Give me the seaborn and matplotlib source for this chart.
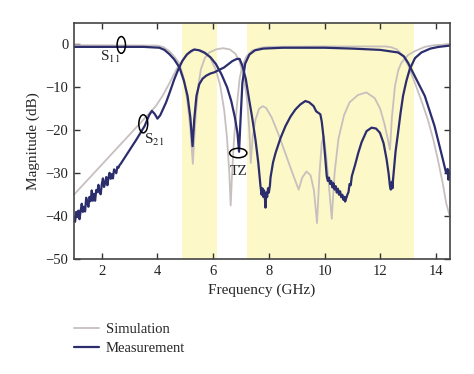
import matplotlib
matplotlib.use("Agg")
import matplotlib.pyplot as plt
from matplotlib.patches import Ellipse
import numpy as np
import pandas as pd
import seaborn as sns

# ---- data (frequency in GHz, magnitude in dB) ----
s21_sim_f = [1.0, 1.5, 2.0, 2.5, 3.0, 3.5, 3.95, 4.2, 4.45, 4.7, 4.9, 5.1, 5.3, 5.5, 5.7,
             5.9, 6.1, 6.25, 6.4, 6.5, 6.58, 6.63, 6.68, 6.75, 6.85, 6.95, 7.05, 7.2, 7.4,
             7.7, 8.0, 10.0, 12.2, 12.4, 12.6, 12.8, 13.0, 13.24, 13.5, 13.71, 13.9, 14.07,
             14.25, 14.37, 14.5]
s21_sim_db = [-35.0, -31.5, -28.0, -24.5, -21.0, -17.5, -14.3, -11.8, -8.8, -5.6, -3.8, -2.3,
              -1.4, -1.3, -1.8, -3.2, -6.0, -9.5, -15.5, -22.0, -30.0, -37.5, -30.0, -22.0,
              -14.5, -8.0, -5.0, -2.8, -1.5, -0.8, -0.6, -0.5, -0.5, -0.7, -1.2, -2.5, -4.8,
              -8.9, -13.5, -17.5, -22.0, -26.8, -32.5, -37.0, -40.0]

s21_meas_f = [1.00, 1.04, 1.08, 1.12, 1.16, 1.20, 1.24, 1.28, 1.32, 1.36, 1.40, 1.44, 1.48,
              1.52, 1.56, 1.60, 1.64, 1.68, 1.72, 1.76, 1.80, 1.84, 1.88, 1.92, 1.96, 2.00,
              2.04, 2.08, 2.12, 2.16, 2.20, 2.24, 2.28, 2.32, 2.36, 2.40, 2.44, 2.48, 2.52,
              2.56, 2.60, 2.64, 2.68, 2.8, 3.0, 3.24, 3.54, 3.7, 3.8, 3.9, 4.0, 4.1, 4.31,
              4.45, 4.6, 4.75, 4.9, 5.05, 5.2, 5.32, 5.5, 5.7, 5.9, 6.1, 6.3, 6.5, 6.65, 6.78,
              6.87, 6.93, 6.98, 7.05, 7.15, 7.3, 7.5, 7.8, 8.5, 10.0, 11.0, 12.0, 12.64,
              12.85, 13.0, 13.24, 13.6, 13.95, 14.25, 14.37, 14.42, 14.45, 14.48, 14.5]
s21_meas_db = [-40.3, -41.3, -39.0, -40.2, -38.7, -40.7, -38.8, -37.1, -39.0, -37.8, -38.9,
               -35.7, -36.8, -37.8, -35.5, -36.5, -34.0, -36.4, -34.8, -36.4, -33.9, -34.4,
               -32.7, -34.5, -34.9, -32.6, -31.2, -33.2, -32.3, -30.9, -32.8, -31.0, -29.9,
               -31.3, -30.2, -31.2, -29.1, -29.5, -30.0, -28.5, -28.7, -28.1, -27.8, -26.6,
               -24.6, -22.2, -19.0, -16.5, -15.5, -16.2, -17.3, -16.5, -13.5, -11.0, -8.2,
               -5.8, -3.8, -2.4, -1.6, -1.2, -1.4, -2.0, -3.0, -4.6, -7.0, -10.0, -13.2, -17.0,
               -20.5, -25.0, -18.0, -9.0, -4.5, -2.4, -1.4, -1.0, -0.8, -0.8, -1.0, -1.3,
               -1.9, -2.8, -4.3, -7.4, -12.0, -19.0, -26.8, -30.0, -29.0, -31.5, -29.5, -31.0]

s11_sim_f = [1.0, 4.0, 4.2, 4.43, 4.6, 4.79, 4.95, 5.08, 5.18, 5.27, 5.33, 5.38, 5.47, 5.56,
             5.7, 5.86, 6.1, 6.35, 6.6, 6.8, 6.95, 7.1, 7.22, 7.3, 7.35, 7.42, 7.52, 7.65,
             7.78, 7.9, 8.1, 8.35, 8.6, 8.85, 9.07, 9.2, 9.35, 9.5, 9.62, 9.73, 9.82, 9.9,
             9.97, 10.06, 10.16, 10.26, 10.36, 10.5, 10.7, 10.9, 11.2, 11.5, 11.8, 12.0,
             12.15, 12.27, 12.35, 12.42, 12.53, 12.65, 12.76, 13.0, 13.24, 13.6, 13.95, 14.5]
s11_sim_db = [-0.2, -0.3, -0.6, -1.6, -2.8, -4.5, -8.0, -13.6, -19.5, -27.8, -21.0, -16.0,
              -9.5, -5.8, -3.2, -1.9, -1.2, -0.9, -1.2, -2.2, -4.0, -7.5, -13.0, -20.0,
              -27.6, -21.5, -17.5, -15.0, -14.4, -14.8, -17.0, -21.0, -25.5, -30.0, -33.8,
              -31.0, -29.6, -30.5, -34.0, -41.6, -30.0, -23.0, -21.4, -26.0, -33.0, -40.6,
              -30.0, -22.0, -16.5, -13.5, -11.8, -11.2, -12.5, -15.0, -18.5, -22.0, -24.5,
              -17.0, -9.7, -6.0, -4.3, -2.5, -1.6, -0.6, -0.2, 0.0]

s11_meas_f = [1.0, 3.5, 4.07, 4.25, 4.43, 4.6, 4.79, 4.95, 5.08, 5.18, 5.26, 5.32, 5.4, 5.5,
              5.62, 5.75, 5.9, 6.05, 6.2, 6.39, 6.55, 6.69, 6.85, 6.95, 7.05, 7.17, 7.29,
              7.4, 7.52, 7.62, 7.7, 7.74, 7.77, 7.8, 7.83, 7.86, 7.88, 7.91, 7.94, 7.97, 8.0,
              8.04, 8.06, 8.15, 8.24, 8.42, 8.6, 8.78, 8.95, 9.13, 9.31, 9.45, 9.61, 9.7,
              9.79, 9.85, 9.9, 9.96, 10.02, 10.08, 10.12, 10.16, 10.2, 10.24, 10.28, 10.32,
              10.36, 10.4, 10.44, 10.48, 10.52, 10.56, 10.6, 10.64, 10.68, 10.72, 10.74,
              10.78, 10.82, 10.86, 10.9, 10.94, 10.98, 11.1, 11.21, 11.33, 11.51, 11.69,
              11.85, 11.99, 12.12, 12.23, 12.3, 12.35, 12.38, 12.42, 12.44, 12.46, 12.55,
              12.64, 12.73, 12.82, 12.94, 13.06, 13.25, 13.48, 13.8, 14.1, 14.37, 14.5]
s11_meas_db = [-0.6, -0.6, -0.8, -1.3, -2.3, -3.5, -5.4, -8.5, -12.0, -17.0, -23.7, -17.5,
               -12.0, -9.3, -8.0, -7.3, -6.8, -6.5, -6.0, -5.4, -4.6, -3.9, -3.4, -3.4, -5.0,
               -8.0, -12.8, -17.0, -22.2, -27.5, -33.0, -35.0, -33.5, -35.5, -34.0, -36.0,
               -38.0, -34.5, -35.5, -33.5, -34.5, -32.8, -31.0, -27.5, -25.3, -21.8, -19.0,
               -16.8, -15.2, -14.0, -13.2, -13.5, -14.4, -15.6, -16.0, -16.3, -18.0, -21.4,
               -26.0, -30.7, -31.8, -31.0, -32.5, -31.8, -33.3, -32.3, -33.8, -33.0, -34.5,
               -33.6, -35.0, -34.2, -35.6, -35.0, -36.2, -35.5, -36.6, -35.8, -35.0, -34.4,
               -32.5, -32.8, -30.7, -28.0, -25.3, -22.8, -20.2, -19.4, -19.6, -20.6, -23.0,
               -26.8, -30.0, -33.0, -33.8, -32.0, -33.5, -31.5, -25.0, -20.6, -16.0, -12.0,
               -8.5, -5.8, -3.2, -1.9, -1.0, -0.6, -0.4, -0.3]

passbands = [(4.87, 6.12), (7.23, 13.2)]

SIM_COLOR = "#c8bfbf"
MEAS_COLOR = "#2b2d6c"
BAND_COLOR = "#fcf8c8"

sns.set_theme(style="ticks")
plt.rcParams["font.family"] = ["Liberation Serif", "DejaVu Serif"]
plt.rcParams["mathtext.fontset"] = "stix"
plt.rcParams["axes.unicode_minus"] = True

fig = plt.figure(figsize=(4.74, 3.74), dpi=100)
ax = fig.add_axes([0.156, 0.307, 0.793, 0.632])

for lo, hi in passbands:
    ax.axvspan(lo, hi, color=BAND_COLOR, lw=0, zorder=0)

series = [
    (s21_sim_f, s21_sim_db, SIM_COLOR, 1.3, "Simulation"),
    (s11_sim_f, s11_sim_db, SIM_COLOR, 1.3, "_s11sim"),
    (s21_meas_f, s21_meas_db, MEAS_COLOR, 1.6, "Measurement"),
    (s11_meas_f, s11_meas_db, MEAS_COLOR, 1.6, "_s11meas"),
]
for f, db, col, lw, lab in series:
    df = pd.DataFrame({"freq": f, "mag": db})
    sns.lineplot(data=df, x="freq", y="mag", color=col, linewidth=lw, sort=False,
                 estimator=None, label=lab, ax=ax, legend=False)

# circle markers for S11, S21 and the transmission zero
for cx, cy, w, h in [(2.70, -0.15, 0.30, 3.9), (3.49, -18.5, 0.32, 4.2), (6.90, -25.3, 0.62, 2.2)]:
    ax.add_patch(Ellipse((cx, cy), w, h, fill=False, ec="black", lw=1.1, zorder=5))
ax.text(2.30, -3.0, "S$_{11}$", fontsize=11, ha="center", va="center")
ax.text(3.88, -22.2, "S$_{21}$", fontsize=11, ha="center", va="center")
ax.text(6.90, -29.6, "TZ", fontsize=10.5, ha="center", va="center")

ax.set_xlim(1, 14.5)
ax.set_ylim(-50, 5)
ax.set_xticks([2, 4, 6, 8, 10, 12, 14])
ax.set_yticks([0, -10, -20, -30, -40, -50])
ax.set_xlabel("Frequency (GHz)", fontsize=11, labelpad=4)
ax.set_ylabel("Magnitude (dB)", fontsize=11, labelpad=4)
ax.tick_params(direction="in", length=4, width=1, colors="#333333", labelsize=10.5,
               top=True, right=True, labelcolor="#222222", pad=4)
for sp in ax.spines.values():
    sp.set_color("#444444")
    sp.set_linewidth(1.2)

h, l = ax.get_legend_handles_labels()
fig.legend(h, l, loc="upper left", bbox_to_anchor=(0.156, 0.137), frameon=False,
           fontsize=10.5, handlelength=1.7, handletextpad=0.5, labelspacing=0.4,
           borderpad=0, borderaxespad=0)

fig.savefig("out.png", dpi=100)
